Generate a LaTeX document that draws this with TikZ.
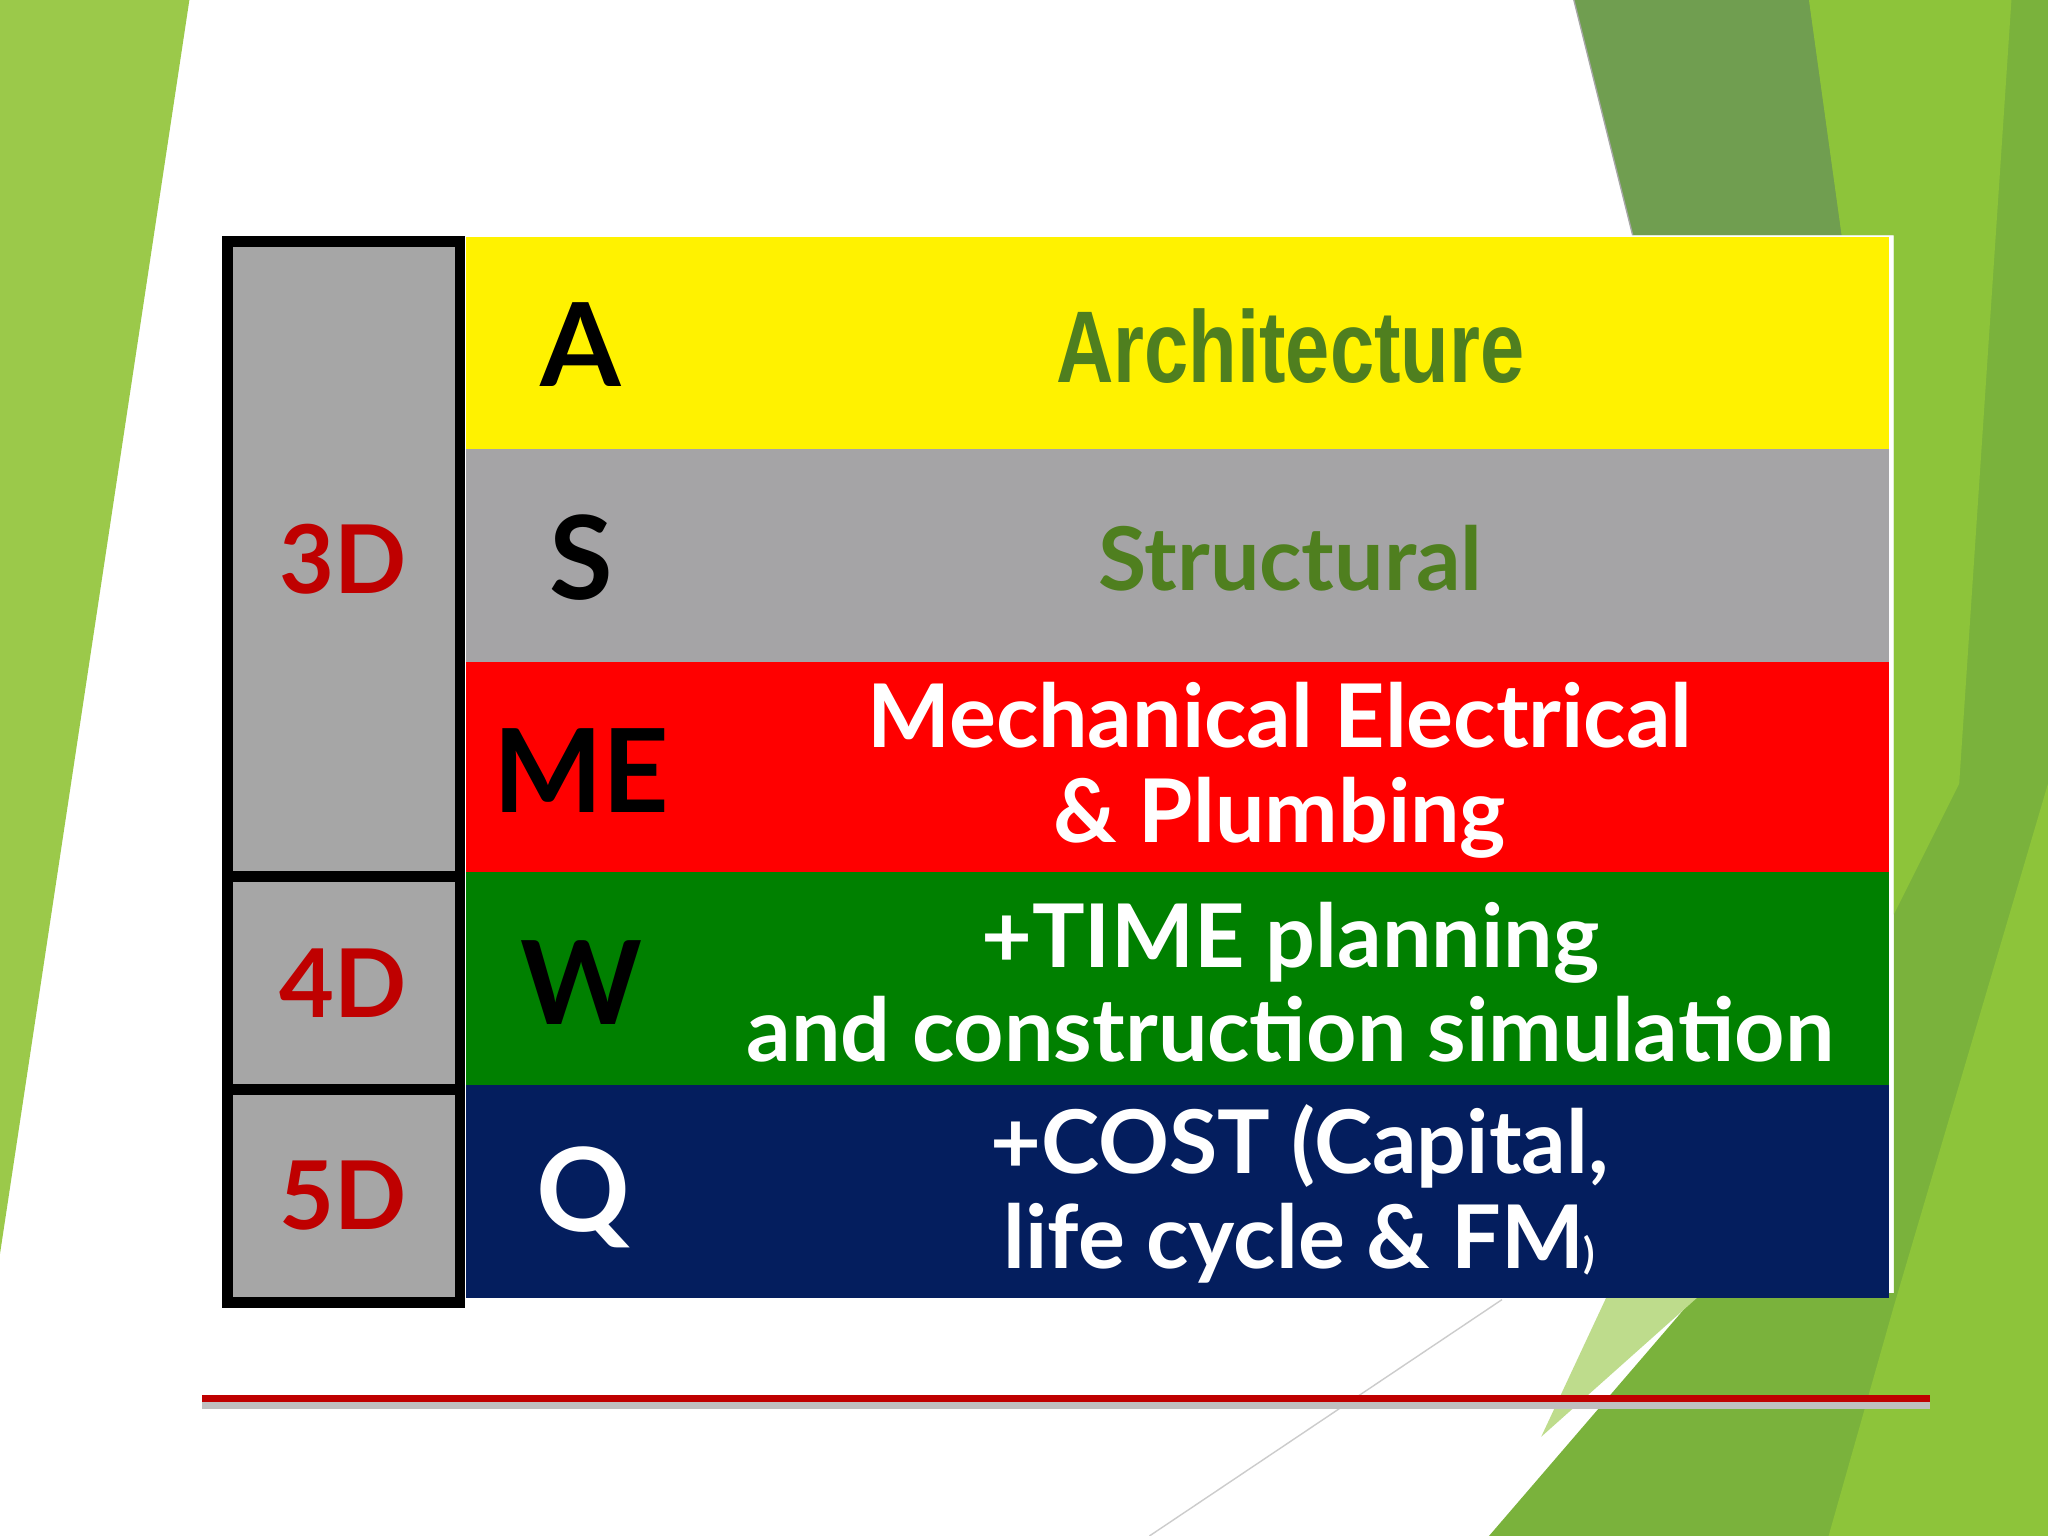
\documentclass[tikz,border=0pt]{standalone}
\usepackage{fontspec}
\setmainfont{Lato}
\newfontfamily\archfont{Liberation Sans}
\definecolor{gA}{RGB}{155,201,74}
\definecolor{gB}{RGB}{122,178,60}
\definecolor{gC}{RGB}{112,158,80}
\definecolor{gD}{RGB}{141,196,58}
\definecolor{gE}{RGB}{190,220,140}
\definecolor{archg}{RGB}{79,127,31}
\definecolor{navy}{RGB}{4,30,94}
\definecolor{cellg}{RGB}{166,166,166}
\begin{document}
\begin{tikzpicture}[x=0.013061cm,y=-0.013061cm,
  cell/.style={draw=black,line width=3pt,fill=cellg},
  band/.style={minimum width=1090*0.013061cm,minimum height=163*0.013061cm,inner sep=0pt,anchor=north west},
  dlab/.style={text=red!75!black,font=\fontsize{27}{32}\selectfont\bfseries},
  letter/.style={font=\fontsize{33}{40}\selectfont\bfseries},
  body/.style={text=white,font=\fontsize{25}{30}\selectfont\bfseries,align=center}]
\useasboundingbox (0,0) rectangle (1568,1176);
\fill[white] (0,0) rectangle (1568,1176);
\fill[gA] (0,0) -- (145,0) -- (0,960) -- cycle;
\fill[gB] (1205,0) -- (1568,0) -- (1568,1176) -- (1140,1176) -- (1300,990) -- (1450,990) -- (1450,180) -- (1250,180) -- cycle;
\fill[gC] (1205,0) -- (1385,0) -- (1410,180) -- (1250,180) -- cycle;
\fill[gD] (1385,0) -- (1540,0) -- (1500,600) -- (1450,700) -- (1450,180) -- (1410,180) -- cycle;
\fill[gD] (1568,600) -- (1568,1176) -- (1400,1176) -- (1450,1000) -- cycle;
\fill[gE] (1230,993) -- (1300,993) -- (1180,1100) -- cycle;
\draw[gray!40] (1150,995) -- (880,1176);
\draw[gray!70] (1205,0) -- (1250,180);
% left column
\node[cell,minimum width=178*0.013061cm,minimum height=486*0.013061cm,anchor=north west,inner sep=0pt] (d3) at (170,181) {};
\node[cell,minimum width=178*0.013061cm,minimum height=163*0.013061cm,anchor=north west,inner sep=0pt] (d4) at (170,667) {};
\node[cell,minimum width=178*0.013061cm,minimum height=163*0.013061cm,anchor=north west,inner sep=0pt] (d5) at (170,830) {};
\node[dlab] (l3) at (d3) {3D};
\node[dlab] (l4) at (d4) {4D};
\node[dlab] (l5) at (d5) {5D};
% bands
\node[band,fill=yellow] (ba) at (356,181) {};
\node[band,fill={rgb,255:red,165;green,164;blue,166}] (bs) at (356,343) {};
\node[band,fill=red] (bm) at (356,506) {};
\node[band,fill={rgb,255:red,0;green,128;blue,0}] (bw) at (356,667) {};
\node[band,fill=navy] (bq) at (356,830) {};
\node[letter] (la) at (445,264) {A};
\node[letter] (ls) at (445,427) {S};
\node[letter] (lm) at (445,590) {ME};
\node[letter] (lw) at (445,752) {W};
\node[letter,text=white] (lq) at (447,917) {Q};
\node[text=archg,font=\archfont\fontsize{29}{34}\selectfont\bfseries,xscale=0.78] (ta) at (988,265) {Architecture};
\node[text=archg,font=\fontsize{25}{30}\selectfont\bfseries] (ts) at (988,427) {Structural};
\node[body] (tm) at (980,590) {Mechanical Electrical\\[-3pt]\& Plumbing};
\node[body] (tw) at (988,752) {+TIME planning\\[-3pt]and construction simulation};
\node[body] (tq) at (995,914) {+COST (Capital,\\[-3pt]life cycle \& FM{\fontsize{12}{14}\selectfont)}};
% bottom line
\coordinate (r1) at (155,1071);
\coordinate (r2) at (1478,1071);
\draw[gray!50,line width=2pt] ([yshift=-2pt]r1) -- ([yshift=-2pt]r2);
\draw[red!75!black,line width=2pt] (r1) -- (r2);
\end{tikzpicture}
\end{document}
